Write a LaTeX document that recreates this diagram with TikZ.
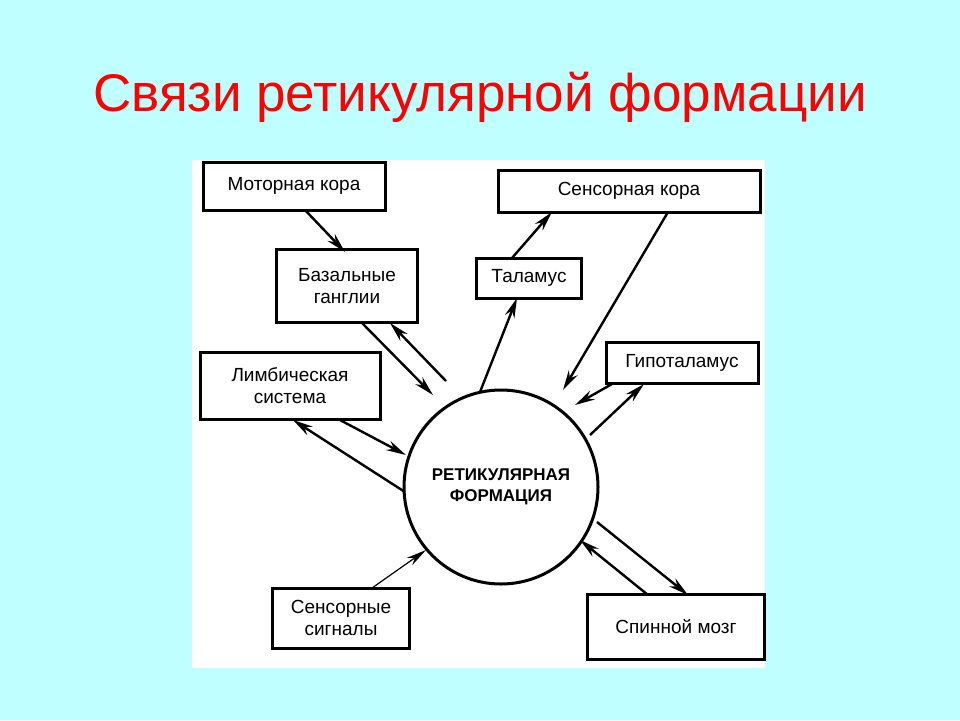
\documentclass[tikz,border=0pt]{standalone}
\usepackage{fontspec}
\setmainfont{Liberation Sans}
\usetikzlibrary{arrows.meta}
\definecolor{bgc}{RGB}{192,255,255}
\begin{document}
\begin{tikzpicture}[x=1pt,y=-1pt,
  bx/.style={draw,line width=3pt,fill=white,inner sep=0pt,font=\fontsize{19}{22}\selectfont,align=center},
  ar/.style={line width=2.4pt,-{Stealth[length=20pt,width=10pt]}},
  thinar/.style={line width=1.2pt,-{Stealth[length=20pt,width=9pt]}}]
\fill[bgc] (0,0) rectangle (960,720);
\useasboundingbox (0,0) rectangle (960,720);
\fill[white] (192,160) rectangle (765,668);
\node[text=red,font=\fontsize{53}{57}\selectfont] (title) at (480,97) {Связи ретикулярной формации};
\node[draw,circle,line width=3pt,minimum size=194pt,inner sep=0pt,font=\bfseries\fontsize{17}{21}\selectfont,align=center] (rf) at (501,487) {РЕТИКУЛЯРНАЯ\\ФОРМАЦИЯ};
\node[bx,minimum width=182pt,minimum height=48pt] (mk) at (294,186) {Моторная кора};
\node[bx,minimum width=262pt,minimum height=42pt] (sk) at (629,191) {Сенсорная кора};
\node[bx,minimum width=141pt,minimum height=73pt] (bg) at (347,286) {Базальные\\ганглии};
\node[bx,minimum width=105pt,minimum height=40pt] (th) at (529,278) {Таламус};
\node[bx,minimum width=152pt,minimum height=41pt] (hy) at (682,363) {Гипоталамус};
\node[bx,minimum width=180pt,minimum height=67pt] (ls) at (290,386) {Лимбическая\\система};
\node[bx,minimum width=137pt,minimum height=60pt] (ss) at (341,618) {Сенсорные\\сигналы};
\node[bx,minimum width=177pt,minimum height=65pt] (sm) at (676,627) {Спинной мозг};
\coordinate (a1) at (305,210); \coordinate (a2) at (345,252);
\draw[ar] (a1) -- (a2);
\coordinate (b1) at (362,323); \coordinate (b2) at (433,395);
\draw[ar] (b1) -- (b2);
\coordinate (c1) at (446,381); \coordinate (c2) at (390,323);
\draw[ar] (c1) -- (c2);
\coordinate (d1) at (512,258); \coordinate (d2) at (552,212);
\draw[ar] (d1) -- (d2);
\coordinate (e1) at (480,392); \coordinate (e2) at (517,298);
\draw[ar] (e1) -- (e2);
\coordinate (f1) at (668,212); \coordinate (f2) at (563,390);
\draw[ar] (f1) -- (f2);
\coordinate (g1) at (612,384); \coordinate (g2) at (575,405);
\draw[ar] (g1) -- (g2);
\coordinate (h1) at (590,435); \coordinate (h2) at (644,384);
\draw[ar] (h1) -- (h2);
\coordinate (i1) at (340,420); \coordinate (i2) at (406,455);
\draw[ar] (i1) -- (i2);
\coordinate (j1) at (405,492); \coordinate (j2) at (293,420);
\draw[ar] (j1) -- (j2);
\coordinate (k1) at (372,588); \coordinate (k2) at (426,550);
\draw[thinar] (k1) -- (k2);
\coordinate (l1) at (597,522); \coordinate (l2) at (688,595);
\draw[ar] (l1) -- (l2);
\coordinate (m1) at (648,595); \coordinate (m2) at (580,540);
\draw[ar] (m1) -- (m2);
\end{tikzpicture}
\end{document}
